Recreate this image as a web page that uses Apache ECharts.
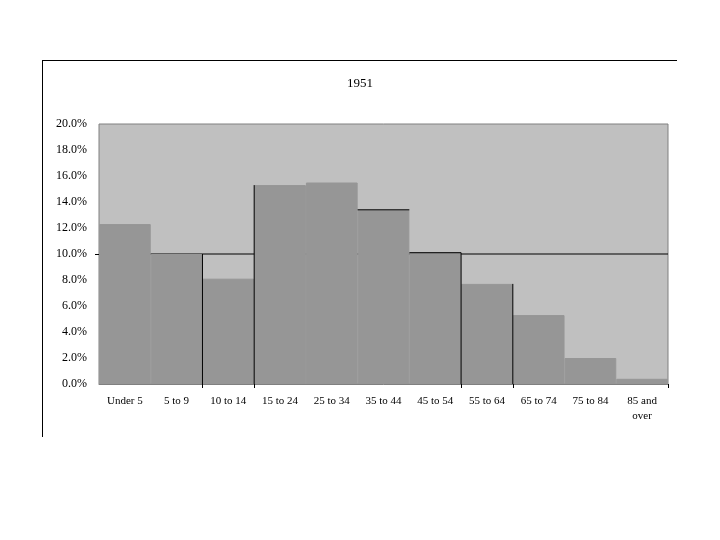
<!DOCTYPE html>
<html>
<head>
<meta charset="utf-8">
<script src="https://cdn.jsdelivr.net/npm/echarts@6/dist/echarts.min.js"></script>
<style>
html,body{margin:0;padding:0;background:#fff;}
#frame{position:absolute;left:42px;top:60px;width:635px;height:377px;border-top:1px solid #000;border-left:1px solid #000;box-sizing:border-box;}
#chart{position:absolute;left:0;top:0;width:720px;height:540px;}
</style>
</head>
<body>
<div id="frame"></div>
<div id="chart"></div>
<script>
// Data (percent of population, 1951)
const title = '1951';
const categories = ['Under 5','5 to 9','10 to 14','15 to 24','25 to 34','35 to 44','45 to 54','55 to 64','65 to 74','75 to 84','85 and\nover'];
const shares = [12.3, 10.0, 8.1, 15.3, 15.5, 13.4, 10.1, 7.7, 5.3, 2.0, 0.4];
const yTicks = [0, 2, 4, 6, 8, 10, 12, 14, 16, 18, 20];
const gridLineLevel = 10;
// black outline segments visible in the picture, in [category boundary, percent]
const outlineSegments = [
  [[2, 10.0], [2, 0]],
  [[3, 15.3], [3, 0]],
  [[5, 13.4], [6, 13.4]],
  [[6, 10.1], [7, 10.1]],
  [[7, 10.1], [7, 0]],
  [[8, 7.7], [8, 0]]
];
const boundaryTicks = [2, 3, 7, 8];

const serif = '"Liberation Serif", "DejaVu Serif", serif';
const chart = echarts.init(document.getElementById('chart'));
const series = [
  {
    type: 'line', xAxisIndex: 1, yAxisIndex: 0, z: 1, silent: true,
    symbol: 'none', animation: false,
    lineStyle: {color: '#000', width: 1},
    data: [[0, gridLineLevel], [categories.length, gridLineLevel]]
  },
  {
    type: 'bar', xAxisIndex: 0, yAxisIndex: 0, z: 2,
    barCategoryGap: '0%', animation: false,
    itemStyle: {color: '#969696', borderColor: '#969696', borderWidth: 1},
    data: shares
  }
];
outlineSegments.forEach(seg => series.push({
  type: 'line', xAxisIndex: 1, yAxisIndex: 0, z: 5, silent: true,
  symbol: 'none', animation: false, clip: false,
  lineStyle: {color: '#000', width: 1},
  data: seg
}));

chart.setOption({
  animation: false,
  title: {
    text: title, left: 'center', top: 72,
    textStyle: {fontFamily: serif, fontSize: 13, fontWeight: 'normal', color: '#000'}
  },
  grid: {
    left: 99, top: 124, right: 52, bottom: 156,
    show: true, backgroundColor: '#C0C0C0', borderColor: '#808080', borderWidth: 1
  },
  xAxis: [
    {
      type: 'category', data: categories, boundaryGap: true,
      axisLine: {show: true, lineStyle: {color: '#808080'}},
      axisTick: {show: true, length: 4, lineStyle: {color: '#000'},
        interval: function (index) { return boundaryTicks.indexOf(index) >= 0; }},
      axisLabel: {fontFamily: serif, fontSize: 11, color: '#000', margin: 10, lineHeight: 15, interval: 0}
    },
    {
      type: 'value', min: 0, max: categories.length, show: false
    }
  ],
  yAxis: [{
    type: 'value', min: yTicks[0], max: yTicks[yTicks.length - 1], interval: yTicks[1] - yTicks[0],
    axisLine: {show: false},
    axisTick: {show: true, length: 4, lineStyle: {color: '#000'}, customValues: [gridLineLevel]},
    splitLine: {show: false},
    axisLabel: {fontFamily: serif, fontSize: 12, color: '#000', margin: 12,
      formatter: v => v.toFixed(1) + '%'}
  }],
  series: series
});
</script>
</body>
</html>
